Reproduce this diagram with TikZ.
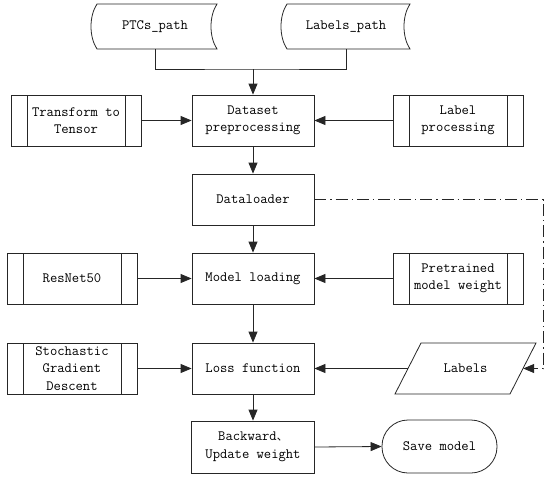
\documentclass[tikz,border=0pt]{standalone}
\usepackage{fontspec}
\setmainfont{Latin Modern Mono}
\newfontfamily\cjk{Noto Sans CJK SC}
\usetikzlibrary{arrows.meta,calc}
\begin{document}
\begin{tikzpicture}[x=1pt,y=-1pt,
  every node/.style={font=\fontsize{14.2}{17.5}\selectfont, align=center, inner sep=0pt},
  ln/.style={line width=0.8pt, draw=black!85},
  arr/.style={ln, -{Triangle[length=11pt,width=9pt]}},
  dd/.style={dash pattern=on 12pt off 4pt on 1.2pt off 4pt},
  procbox/.style={ln, draw, minimum width=122pt, minimum height=51pt},
  subbox/.style={ln, draw, minimum width=130pt, minimum height=51pt,
    path picture={
      \draw[line width=0.8pt, black!85] ([xshift=16pt]path picture bounding box.north west) -- ([xshift=16pt]path picture bounding box.south west);
      \draw[line width=0.8pt, black!85] ([xshift=-16pt]path picture bounding box.north east) -- ([xshift=-16pt]path picture bounding box.south east);}},
  plain/.style={minimum height=45pt}
]
\useasboundingbox (0,0) rectangle (550,480);

% stored data shapes
\draw[ln] (97,4) -- (217,4) .. controls (209,16) and (209,37) .. (217,49) -- (97,49) .. controls (89,37) and (89,16) .. (97,4) -- cycle;
\node[plain, minimum width=120pt] (ptc) at (155,26.5) {PTCs\_path};
\draw[ln] (287,4) -- (410,4) .. controls (402,16) and (402,37) .. (410,49) -- (287,49) .. controls (279,37) and (279,16) .. (287,4) -- cycle;
\node[plain, minimum width=120pt] (lp) at (346,26.5) {Labels\_path};

\coordinate (j) at (253,69);

\node[procbox] (ds) at (253,120.5) {Dataset\\preprocessing};
\node[subbox] (tt) at (76,120.5) {Transform to\\Tensor};
\node[subbox] (lproc) at (458,120.5) {Label\\processing};

\node[procbox] (dl) at (253,199.5) {Dataloader};

\node[procbox] (ml) at (253,278.5) {Model loading};
\node[subbox] (res) at (72,278.5) {ResNet50};
\node[subbox] (pre) at (458,278.5) {Pretrained\\model weight};

\node[procbox] (lf) at (253,368.5) {Loss function};
\node[subbox] (sgd) at (72,368.5) {Stochastic\\Gradient\\Descent};

\draw[ln] (421,343) -- (536,343) -- (510,394) -- (395,394) -- cycle;
\node[minimum width=115pt, minimum height=51pt] (lab) at (465.5,368.5) {Labels};

\node[procbox, minimum width=123pt, minimum height=52pt] (bw) at (253,447) {Backward{\cjk\fontsize{11}{11}\selectfont 、}\\Update weight};
\node[ln, draw, minimum width=115pt, minimum height=53pt, rounded corners=26pt] (save) at (439.5,446.5) {Save model};

% connectors
\draw[ln] (ptc.south) |- (j) -| (lp.south);
\draw[arr] (j) -- (ds.north);
\draw[arr] (tt.east) -- (ds.west);
\draw[arr] (lproc.west) -- (ds.east);
\draw[arr] (ds.south) -- (dl.north);
\draw[arr] (dl.south) -- (ml.north);
\draw[arr] (res.east) -- (ml.west);
\draw[arr] (pre.west) -- (ml.east);
\draw[arr] (ml.south) -- (lf.north);
\draw[arr] (sgd.east) -- (lf.west);
\draw[arr] (lab.west) -- (lf.east);
\draw[arr] (lf.south) -- (bw.north);
\draw[arr] (bw.east) -- (save.west);
\coordinate (dc) at (543,199.5);
\draw[arr, dd] (dl.east) -- (dc) |- (lab.east);
\end{tikzpicture}
\end{document}
